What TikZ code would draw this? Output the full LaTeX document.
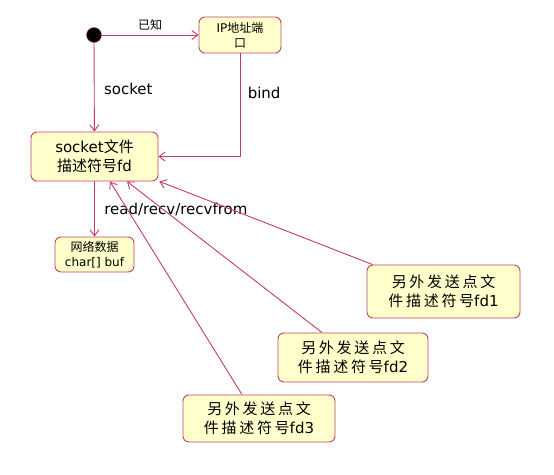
\documentclass[tikz,border=0pt]{standalone}
\usepackage{fontspec}
\setmainfont{DejaVu Sans}
\newfontfamily\cjk{Noto Sans CJK SC}
\newfontfamily\cjkwide[LetterSpace=18]{Noto Sans CJK SC}
\usetikzlibrary{arrows.meta}
\definecolor{linered}{RGB}{196,58,104}
\definecolor{boxline}{RGB}{190,70,100}
\definecolor{boxfill}{RGB}{255,255,204}

\begin{document}
\begin{tikzpicture}[x=1pt,y=-1pt,
  state/.style={draw=boxline, fill=boxfill, rounded corners=6pt, align=center, inner sep=0pt, line width=0.9pt},
  big/.style={font=\fontsize{15}{19}\selectfont},
  small/.style={font=\fontsize{12}{15}\selectfont},
  link/.style={draw=linered, line width=0.9pt, -{Straight Barb[length=6pt,width=9pt]}},
  lbl/.style={font=\fontsize{15}{18}\selectfont}]
\useasboundingbox (0,0) rectangle (554,474);
% start point and states
\node[circle, draw=linered, fill=black, minimum size=15pt, inner sep=0pt] (start) at (94,35) {};
\node[state, small, minimum width=82pt, minimum height=36pt] (ip) at (240,35) {IP{\cjk 地址端}\\{\cjk 口}};
\node[state, big, minimum width=127pt, minimum height=49pt] (sock) at (94.5,156.5) {socket{\cjk 文件}\\{\cjk 描述符号}fd};
\node[state, small, minimum width=79pt, minimum height=35pt] (buf) at (94.5,254.5) {{\cjk 网络数据}\\char[] buf};
\node[state, big, minimum width=153pt, minimum height=53pt] (fd1) at (443.5,291.5) {{\cjkwide 另外发送点文}\\{\cjkwide 件描述符号}fd1};
\node[state, big, minimum width=150pt, minimum height=49pt] (fd2) at (353,357.5) {{\cjkwide 另外发送点文}\\{\cjkwide 件描述符号}fd2};
\node[state, big, minimum width=152pt, minimum height=47pt] (fd3) at (259,418.5) {{\cjkwide 另外发送点文}\\{\cjkwide 件描述符号}fd3};
% transitions
\draw[link] (start) -- node[above, small, yshift=1pt] {\cjk 已知} (ip);
\draw[link] (start) -- node[right, lbl, xshift=6pt, pos=0.52] {socket} (sock);
\draw[link] (ip.south) |- node[right, lbl, pos=0.19, xshift=4pt] {bind} (sock.east);
\draw[link] (sock) -- node[right, lbl, xshift=6pt, pos=0.5] {read/recv/recvfrom} (buf);
\draw[link] ([xshift=6pt]fd1.north west) -- ([xshift=1pt]sock.south east);
\draw[link] ([xshift=-31pt]fd2.north) -- ([xshift=32.5pt]sock.south);
\draw[link] ([xshift=-17pt]fd3.north) -- ([xshift=15.5pt]sock.south);
\end{tikzpicture}
\end{document}
